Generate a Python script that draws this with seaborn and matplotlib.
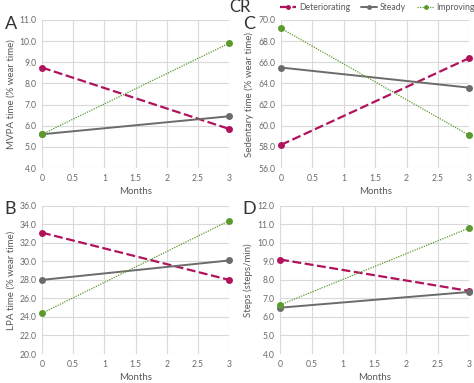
import matplotlib
matplotlib.use("Agg")
import matplotlib.pyplot as plt
import seaborn as sns
import pandas as pd
from matplotlib.ticker import FormatStrFormatter, FuncFormatter

months = [0, 3]
groups = ["Deteriorating", "Steady", "Improving"]

mvpa_det = [8.75, 5.85]
mvpa_std = [5.6, 6.45]
mvpa_imp = [5.6, 9.9]

sed_det = [58.2, 66.4]
sed_std = [65.5, 63.6]
sed_imp = [69.2, 59.1]

lpa_det = [33.1, 28.0]
lpa_std = [28.0, 30.1]
lpa_imp = [24.4, 34.4]

steps_det = [9.1, 7.4]
steps_std = [6.5, 7.35]
steps_imp = [6.65, 10.8]

colors = {"Deteriorating": "#b0125c", "Steady": "#6b6b6b", "Improving": "#5b9a2b"}
dashes = {"Deteriorating": (4, 1.6), "Steady": "", "Improving": (1, 1)}
widths = {"Deteriorating": 1.6, "Steady": 1.4, "Improving": 0.9}
text_col = "#595959"


def make_frame(det, std, imp):
    rows = []
    for g, vals in zip(groups, [det, std, imp]):
        for m, v in zip(months, vals):
            rows.append({"Months": m, "value": v, "group": g})
    return pd.DataFrame(rows)


panels = [
    ("A", make_frame(mvpa_det, mvpa_std, mvpa_imp), "MVPA time (% wear time)", (4, 11), 1,
     [0.0886, 0.561, 0.395, 0.387]),
    ("C", make_frame(sed_det, sed_std, sed_imp), "Sedentary time (% wear time)", (56, 70), 2,
     [0.593, 0.561, 0.397, 0.387]),
    ("B", make_frame(lpa_det, lpa_std, lpa_imp), "LPA time (% wear time)", (20, 36), 2,
     [0.0886, 0.0757, 0.395, 0.387]),
    ("D", make_frame(steps_det, steps_std, steps_imp), "Steps (steps/min)", (4, 12), 1,
     [0.591, 0.0757, 0.399, 0.387]),
]

sns.set_style("white")
plt.rcParams["font.family"] = ["Lato", "DejaVu Sans"]
fig = plt.figure(figsize=(4.74, 3.83), dpi=100)

for letter, df, ylabel, ylim, ystep, rect in panels:
    ax = fig.add_axes(rect)
    for g in groups:
        sub = df[df["group"] == g]
        sns.lineplot(data=sub, x="Months", y="value", ax=ax, color=colors[g],
                     linewidth=widths[g], marker="o", markersize=5,
                     markeredgewidth=0, legend=False, clip_on=False, zorder=3)
        if dashes[g]:
            ax.lines[-1].set_dashes(dashes[g])
    ax.set_xlim(0, 3)
    ax.set_ylim(*ylim)
    ax.set_xticks([0, 0.5, 1, 1.5, 2, 2.5, 3])
    ax.xaxis.set_major_formatter(FuncFormatter(lambda v, p: f"{v:g}"))
    ax.set_yticks([ylim[0] + i * ystep for i in range(int((ylim[1] - ylim[0]) / ystep) + 1)])
    ax.yaxis.set_major_formatter(FormatStrFormatter("%.1f"))
    ax.grid(True, color="#d9d9d9", linewidth=0.8)
    for s in ax.spines.values():
        s.set_visible(False)
    ax.tick_params(labelsize=6.2, colors="#6a6a6a", length=0, pad=4)
    ax.set_xlabel("Months", fontsize=7, color=text_col, labelpad=3)
    ax.set_ylabel(ylabel, fontsize=7, color=text_col, labelpad=3)
    ax.text(-0.2, 0.975, letter, transform=ax.transAxes, fontsize=13,
            color="#333333", va="center", ha="left")

fig.text(0.484, 1.003, "CR", fontsize=12, color="#333333", va="top", ha="left")

handles = []
for g in groups:
    h, = plt.plot([], [], color=colors[g], linewidth=widths[g], marker="o",
                  markersize=3.5, markeredgewidth=0)
    if dashes[g]:
        h.set_dashes(dashes[g])
    handles.append(h)
fig.legend(handles, groups, loc="upper left", bbox_to_anchor=(0.574, 1.012),
           ncol=3, frameon=False, fontsize=6.2, labelcolor=text_col,
           handlelength=1.9, handletextpad=0.3, columnspacing=1.3)

fig.savefig("out.png", dpi=100)
